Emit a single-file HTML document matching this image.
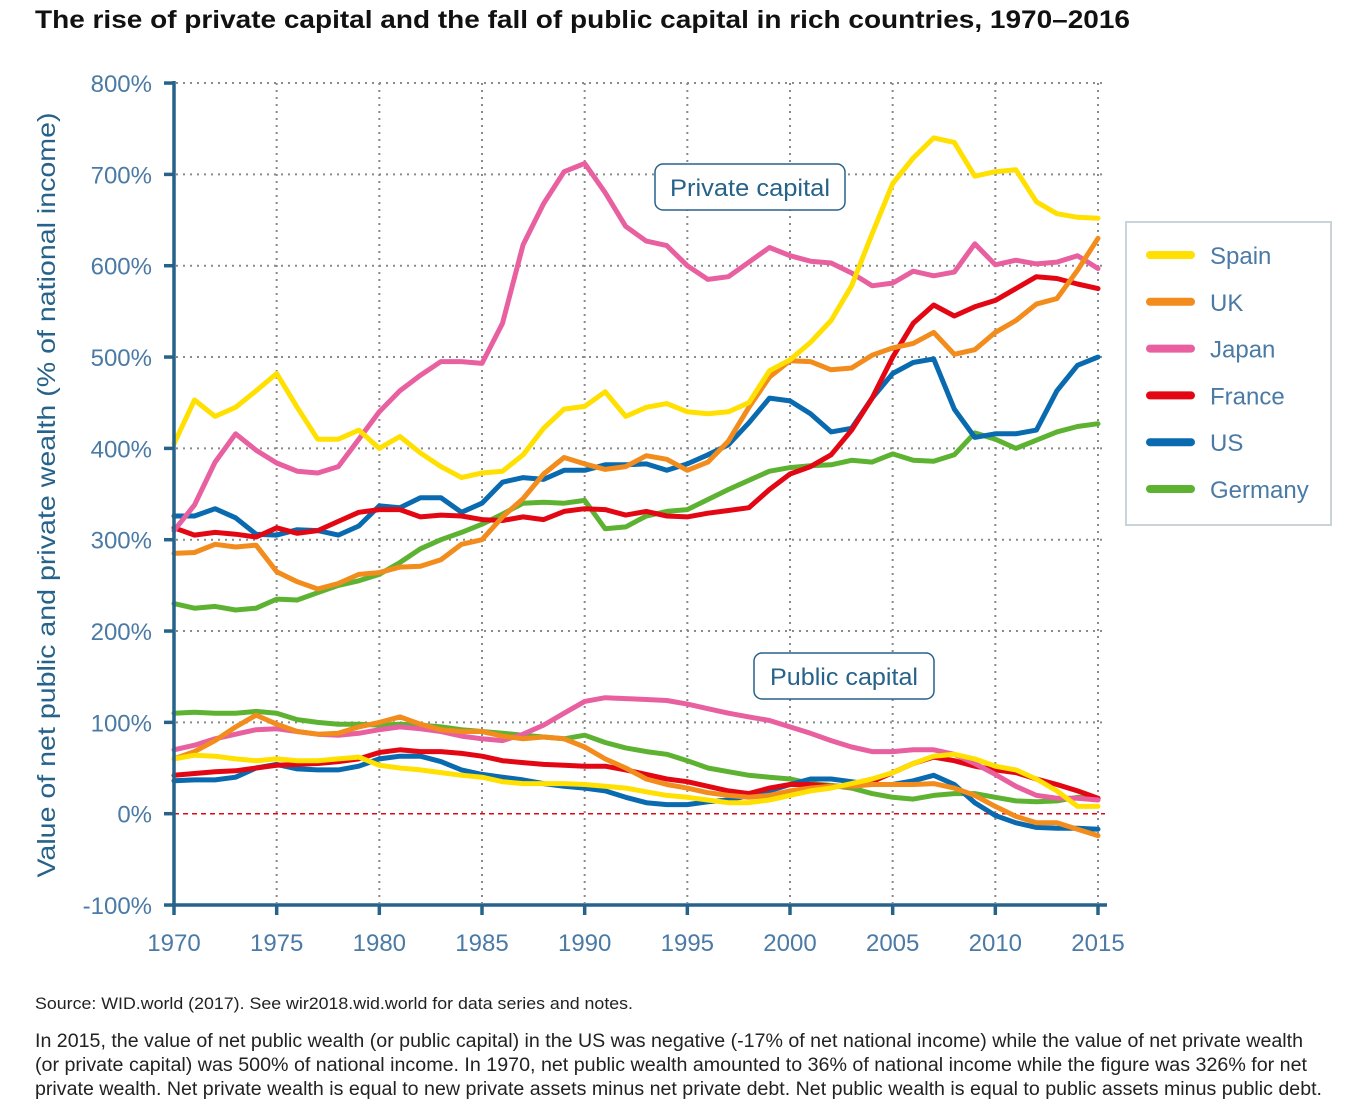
<!DOCTYPE html>
<html><head><meta charset="utf-8"><style>
html,body{margin:0;padding:0;background:#fff}
svg{display:block}
text{font-family:"Liberation Sans",sans-serif}
</style></head><body>
<svg id="s" width="1358" height="1117" viewBox="0 0 1358 1117" xmlns="http://www.w3.org/2000/svg">
<text x="35" y="28" font-size="25" font-weight="bold" fill="#111" textLength="1095" lengthAdjust="spacingAndGlyphs">The rise of private capital and the fall of public capital in rich countries, 1970–2016</text>
<g id="grid" stroke="#8a8a8a" stroke-width="2" stroke-dasharray="2,5"></g>
<line x1="174" y1="813.7" x2="1105" y2="813.7" stroke="#e30613" stroke-width="1.5" stroke-dasharray="5,4"/>
<g id="series" fill="none" stroke-width="5" stroke-linejoin="round" stroke-linecap="round"></g>
<g stroke="#27628a" stroke-width="3.5" fill="none">
<line x1="174" y1="81" x2="174" y2="907"/>
<line x1="172" y1="905" x2="1107" y2="905"/>
</g>
<g id="ticks" stroke="#27628a" stroke-width="3.5"></g>
<g id="labels" fill="#4a7aa5" font-size="24"></g>
<text transform="translate(55,495) rotate(-90)" text-anchor="middle" font-size="25" fill="#27628a" textLength="765" lengthAdjust="spacingAndGlyphs">Value of net public and private wealth (% of national income)</text>
<rect x="655" y="164" width="190" height="46" rx="8" fill="#fff" stroke="#27628a" stroke-width="1.5"/>
<text x="750" y="196" text-anchor="middle" font-size="24" fill="#27628a" textLength="160" lengthAdjust="spacingAndGlyphs">Private capital</text>
<rect x="754" y="653" width="180" height="46" rx="8" fill="#fff" stroke="#27628a" stroke-width="1.5"/>
<text x="844" y="685" text-anchor="middle" font-size="24" fill="#27628a" textLength="148" lengthAdjust="spacingAndGlyphs">Public capital</text>
<rect x="1126" y="222" width="205" height="303" fill="#fff" stroke="#c9d3da" stroke-width="2"/>
<g id="legend" font-size="24" fill="#4a7aa5"></g>
<g fill="#222" font-size="17">
<text x="35" y="1009" textLength="598" lengthAdjust="spacingAndGlyphs">Source: WID.world (2017). See wir2018.wid.world for data series and notes.</text>
<text x="35" y="1047" font-size="19" textLength="1268" lengthAdjust="spacingAndGlyphs">In 2015, the value of net public wealth (or public capital) in the US was negative (-17% of net national income) while the value of net private wealth</text>
<text x="35" y="1071" font-size="19" textLength="1272" lengthAdjust="spacingAndGlyphs">(or private capital) was 500% of national income. In 1970, net public wealth amounted to 36% of national income while the figure was 326% for net</text>
<text x="35" y="1095" font-size="19" textLength="1287" lengthAdjust="spacingAndGlyphs">private wealth. Net private wealth is equal to new private assets minus net private debt. Net public wealth is equal to public assets minus public debt.</text>
</g>
</svg>
<script>
var NS="http://www.w3.org/2000/svg";
function X(y){return 174+(y-1970)*(924/45);}
function Y(v){return 813.7-v*0.9133;}
function el(p,t,a,txt){var e=document.createElementNS(NS,t);for(var k in a)e.setAttribute(k,a[k]);if(txt!=null)e.textContent=txt;document.getElementById(p).appendChild(e);return e;}
for(var v=-100;v<=800;v+=100){
 if(v!=0&&v!=-100) el("grid","line",{x1:176,y1:Y(v),x2:1105,y2:Y(v)});
 el("ticks","line",{x1:164,y1:Y(v),x2:174,y2:Y(v)});
 el("labels","text",{x:152,y:Y(v)+9,"text-anchor":"end"},v+"%");
}
for(var y=1975;y<=2015;y+=5){el("grid","line",{x1:X(y),y1:83,x2:X(y),y2:903});}
for(var y=1970;y<=2015;y+=5){el("ticks","line",{x1:X(y),y1:905,x2:X(y),y2:915});el("labels","text",{x:X(y),y:951,"text-anchor":"middle"},""+y);}
var C={Spain:"#ffe000",UK:"#f28c1c",Japan:"#e8609f",France:"#e30613",US:"#0a6ab0",Germany:"#5db331"};
var P={
Spain:[405,453,435,445,463,482,445,410,410,420,400,413,395,380,368,373,375,393,422,443,446,462,435,445,449,440,438,440,450,485,497,516,540,578,635,690,718,740,735,698,703,705,670,657,653,652],
UK:[285,286,295,292,294,265,254,246,252,262,264,270,271,278,295,300,325,345,372,390,383,377,380,392,388,376,385,408,445,478,496,495,486,488,502,510,515,527,503,508,527,540,558,564,595,630],
Japan:[310,338,385,416,398,384,375,373,380,410,440,463,480,495,495,493,537,623,668,703,712,680,643,627,622,600,585,588,604,620,611,605,603,592,578,581,594,589,593,624,601,606,602,604,611,597],
France:[313,305,308,306,303,313,307,310,320,330,333,333,325,327,326,322,321,325,322,331,334,333,327,331,326,325,329,332,335,355,372,380,393,420,455,500,537,557,545,555,562,575,588,586,580,575],
US:[326,326,334,324,306,305,311,310,305,315,337,335,346,346,330,340,363,368,366,376,376,382,382,383,376,383,393,404,428,455,452,438,418,422,455,482,494,498,443,412,416,416,420,463,491,500],
Germany:[230,225,227,223,225,235,234,242,250,255,262,275,290,300,308,317,328,340,341,340,343,312,314,326,331,333,344,355,365,375,379,381,382,387,385,394,387,386,393,417,410,400,409,418,424,427]};
var Q={
Spain:[60,64,63,60,58,60,58,58,60,62,53,50,48,45,42,40,35,33,33,33,32,30,28,24,20,18,15,12,12,15,20,25,28,33,38,45,55,63,65,60,52,48,38,25,8,8],
UK:[60,68,80,95,108,98,90,87,88,95,100,106,98,92,90,90,85,82,84,82,73,60,50,38,32,28,23,20,18,20,25,28,30,30,32,32,32,33,28,20,8,-3,-10,-10,-17,-24],
Japan:[70,75,82,87,92,93,90,87,86,88,92,95,93,90,85,82,80,87,97,110,123,127,126,125,124,120,115,110,106,102,95,88,80,73,68,68,70,70,65,55,43,30,20,17,17,15],
France:[42,44,46,47,50,53,54,55,57,60,67,70,68,68,66,63,58,56,54,53,52,52,48,43,38,35,30,25,22,28,32,32,30,30,35,45,55,62,58,52,48,45,38,32,25,17],
US:[36,37,37,40,50,54,49,48,48,52,60,63,63,57,48,43,40,37,33,30,28,25,18,12,10,10,13,15,20,25,32,38,38,35,32,32,36,42,32,12,-2,-10,-15,-16,-16,-17],
Germany:[110,111,110,110,112,110,103,100,98,98,97,98,97,95,92,90,88,86,84,82,86,78,72,68,65,58,50,46,42,40,38,33,31,28,22,18,16,20,22,22,18,14,13,14,18,17]};
function path(a){return a.map(function(v,i){return (i?"L":"M")+X(1970+i).toFixed(1)+" "+Y(v).toFixed(1);}).join(" ");}
var order=["Germany","US","France","Japan","UK","Spain"];
order.forEach(function(k){el("series","path",{d:path(Q[k]),stroke:C[k]});});
order.forEach(function(k){el("series","path",{d:path(P[k]),stroke:C[k]});});
["Spain","UK","Japan","France","US","Germany"].forEach(function(k,i){
 var y=255+i*46.8;
 el("legend","line",{x1:1150,y1:y,x2:1191,y2:y,stroke:C[k],"stroke-width":8,"stroke-linecap":"round"});
 el("legend","text",{x:1210,y:y+9},k);
});
</script>
</body></html>
